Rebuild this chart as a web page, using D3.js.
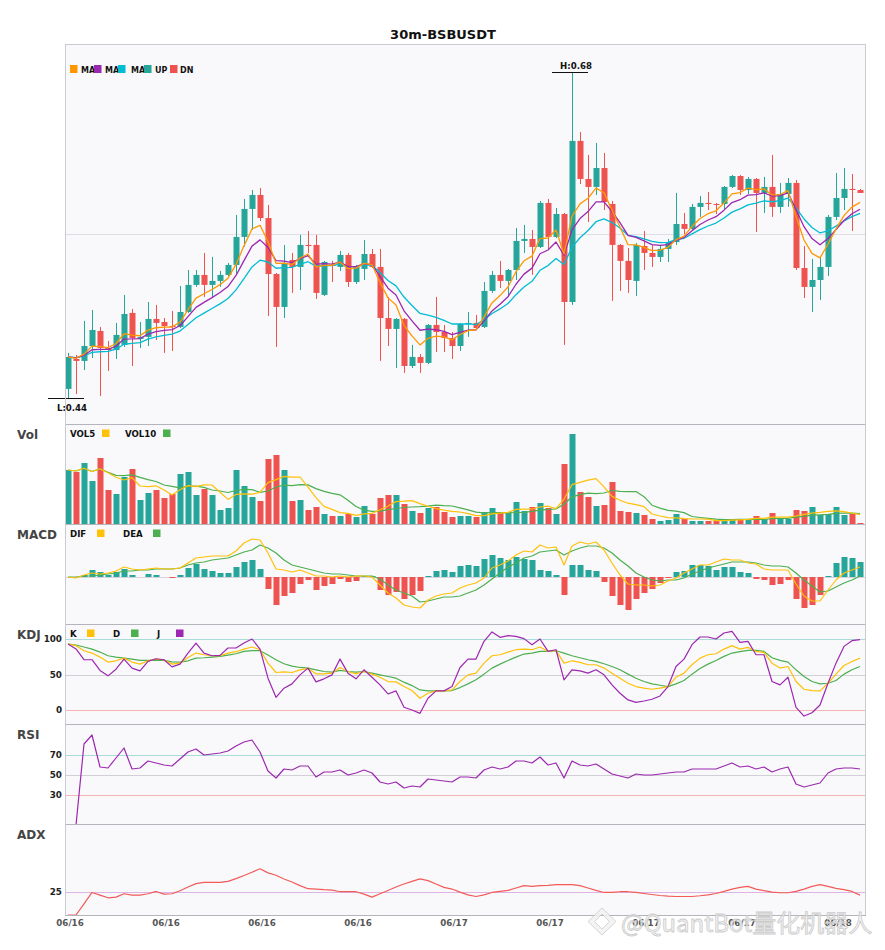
<!DOCTYPE html>
<html>
<head>
<meta charset="utf-8">
<title>30m-BSBUSDT</title>
<script src="https://cdn.jsdelivr.net/npm/d3@7/dist/d3.min.js"></script>
<style>
  body { margin: 0; background: #fff; }
  svg { display: block; font-family: "DejaVu Sans", Verdana, sans-serif; }
</style>
</head>
<body>
<div id="chart"></div>
<script>
// 30m BSB/USDT candles with the indicator panes under them.
// every value below

const tickIdx = [0, 12, 24, 36, 48, 60, 72, 84, 96];
const tickLabels = ["06/16", "06/16", "06/16", "06/16", "06/17", "06/17", "06/17", "06/17", "06/18"];

const open = [0.4468,0.4693,0.4678,0.4790,0.4903,0.4775,0.4760,0.4798,0.5038,0.4843,
  0.4858,0.4993,0.4970,0.4940,0.4933,0.5045,0.5248,0.5323,0.5248,0.5278,
  0.5323,0.5398,0.5608,0.5818,0.5923,0.5750,0.5330,0.5083,0.5435,0.5383,
  0.5548,0.5548,0.5173,0.5398,0.5383,0.5473,0.5270,0.5368,0.5480,0.5383,
  0.5000,0.4918,0.4993,0.4640,0.4708,0.4663,0.4948,0.4895,0.4850,0.4790,
  0.4955,0.4963,0.4933,0.5203,0.5323,0.5278,0.5360,0.5578,0.5593,0.5533,
  0.5863,0.5608,0.5780,0.5120,0.6328,0.6043,0.5983,0.6125,0.5855,0.5548,
  0.5428,0.5278,0.5540,0.5488,0.5458,0.5518,0.5570,0.5705,0.5668,0.5833,
  0.5863,0.5855,0.5855,0.5983,0.6065,0.5960,0.6043,0.5938,0.5983,0.5833,
  0.5930,0.6013,0.5375,0.5233,0.5285,0.5383,0.5758,0.5900,0.5968,0.5960];
const high = [0.4738,0.4723,0.4978,0.5060,0.4933,0.4828,0.4963,0.5173,0.5068,0.4970,
  0.5120,0.5098,0.5000,0.5053,0.5240,0.5360,0.5360,0.5488,0.5458,0.5353,
  0.5413,0.5773,0.5893,0.5960,0.5975,0.5848,0.5338,0.5548,0.5488,0.5623,
  0.5653,0.5623,0.5428,0.5428,0.5503,0.5488,0.5398,0.5585,0.5518,0.5518,
  0.5158,0.5000,0.5000,0.4798,0.4730,0.4955,0.5158,0.4948,0.4895,0.4963,
  0.5045,0.5023,0.5270,0.5353,0.5428,0.5368,0.5675,0.5698,0.5660,0.5878,
  0.5893,0.5825,0.5788,0.6845,0.6395,0.6223,0.6313,0.6238,0.5878,0.5555,
  0.5525,0.5563,0.5653,0.5548,0.5548,0.5593,0.5938,0.5788,0.5855,0.5915,
  0.5945,0.5863,0.5990,0.6073,0.6073,0.6058,0.6050,0.6058,0.6223,0.6013,
  0.6050,0.6035,0.5540,0.5443,0.5458,0.5773,0.6088,0.6125,0.6080,0.5968];
const low = [0.4400,0.4430,0.4610,0.4700,0.4415,0.4603,0.4693,0.4783,0.4640,0.4775,
  0.4790,0.4835,0.4738,0.4753,0.4925,0.5038,0.5233,0.5158,0.5158,0.5233,
  0.5315,0.5323,0.5533,0.5660,0.5728,0.5015,0.4783,0.5000,0.5188,0.5210,
  0.5488,0.5143,0.5165,0.5270,0.5353,0.5233,0.5255,0.5285,0.5375,0.4678,
  0.4790,0.4625,0.4588,0.4625,0.4588,0.4655,0.4745,0.4745,0.4693,0.4753,
  0.4858,0.4918,0.4925,0.5188,0.5225,0.5158,0.5285,0.5488,0.5323,0.5525,
  0.5518,0.5600,0.4798,0.5098,0.6005,0.5720,0.5923,0.5810,0.5128,0.5203,
  0.5188,0.5165,0.5360,0.5383,0.5420,0.5420,0.5548,0.5630,0.5660,0.5758,
  0.5810,0.5780,0.5810,0.5975,0.5923,0.5930,0.5645,0.5788,0.5758,0.5788,
  0.5833,0.5360,0.5150,0.5045,0.5135,0.5315,0.5735,0.5810,0.5653,0.5938];
const close = [0.4708,0.4678,0.4790,0.4910,0.4775,0.4760,0.4873,0.5030,0.4850,0.4858,
  0.4993,0.4963,0.4940,0.4933,0.5045,0.5248,0.5323,0.5248,0.5278,0.5323,
  0.5398,0.5608,0.5818,0.5923,0.5750,0.5330,0.5083,0.5413,0.5383,0.5548,
  0.5540,0.5188,0.5420,0.5390,0.5473,0.5270,0.5383,0.5480,0.5383,0.5000,
  0.4918,0.4993,0.4640,0.4708,0.4663,0.4948,0.4895,0.4850,0.4790,0.4955,
  0.4963,0.4925,0.5203,0.5323,0.5278,0.5360,0.5578,0.5593,0.5533,0.5863,
  0.5608,0.5780,0.5120,0.6328,0.6043,0.5983,0.6125,0.5870,0.5548,0.5428,
  0.5285,0.5548,0.5488,0.5458,0.5518,0.5570,0.5705,0.5668,0.5833,0.5863,
  0.5855,0.5848,0.5983,0.6065,0.5960,0.6043,0.5938,0.5983,0.5833,0.5930,
  0.6013,0.5375,0.5233,0.5285,0.5383,0.5758,0.5900,0.5968,0.5960,0.5938];

const ma5 = [0.4708,0.4698,0.4729,0.4789,0.4785,0.4777,0.4809,0.4882,0.4872,0.4867,
  0.4909,0.4927,0.4932,0.4932,0.4969,0.5062,0.5149,0.5182,0.5214,0.5250,
  0.5299,0.5402,0.5541,0.5668,0.5695,0.5574,0.5410,0.5411,0.5401,0.5450,
  0.5480,0.5383,0.5395,0.5394,0.5420,0.5370,0.5374,0.5410,0.5401,0.5267,
  0.5151,0.5098,0.4945,0.4866,0.4798,0.4848,0.4864,0.4859,0.4836,0.4876,
  0.4905,0.4912,0.5008,0.5113,0.5168,0.5232,0.5347,0.5429,0.5464,0.5596,
  0.5600,0.5660,0.5480,0.5763,0.5856,0.5898,0.5974,0.5939,0.5809,0.5682,
  0.5550,0.5549,0.5529,0.5505,0.5509,0.5530,0.5588,0.5614,0.5687,0.5746,
  0.5782,0.5804,0.5863,0.5931,0.5941,0.5974,0.5962,0.5969,0.5923,0.5926,
  0.5955,0.5761,0.5585,0.5485,0.5451,0.5553,0.5668,0.5768,0.5832,0.5867];
const ma10 = [0.4708,0.4701,0.4720,0.4762,0.4765,0.4764,0.4788,0.4842,0.4843,0.4846,
  0.4879,0.4897,0.4907,0.4913,0.4942,0.5010,0.5080,0.5117,0.5153,0.5191,
  0.5236,0.5319,0.5430,0.5539,0.5586,0.5529,0.5430,0.5426,0.5416,0.5446,
  0.5467,0.5404,0.5408,0.5404,0.5419,0.5386,0.5386,0.5407,0.5401,0.5312,
  0.5224,0.5173,0.5054,0.4978,0.4908,0.4917,0.4912,0.4899,0.4875,0.4893,
  0.4909,0.4912,0.4977,0.5053,0.5103,0.5160,0.5253,0.5329,0.5374,0.5482,
  0.5510,0.5570,0.5470,0.5661,0.5746,0.5798,0.5871,0.5871,0.5799,0.5716,
  0.5620,0.5604,0.5578,0.5551,0.5544,0.5550,0.5584,0.5603,0.5654,0.5701,
  0.5735,0.5760,0.5809,0.5866,0.5887,0.5922,0.5926,0.5938,0.5915,0.5918,
  0.5939,0.5814,0.5685,0.5596,0.5549,0.5596,0.5663,0.5731,0.5782,0.5816];
const ma20 = [0.4708,0.4703,0.4715,0.4742,0.4747,0.4749,0.4766,0.4803,0.4810,0.4816,
  0.4841,0.4858,0.4870,0.4879,0.4902,0.4951,0.5002,0.5037,0.5071,0.5106,
  0.5146,0.5211,0.5296,0.5383,0.5434,0.5420,0.5373,0.5378,0.5379,0.5403,
  0.5422,0.5389,0.5394,0.5393,0.5404,0.5386,0.5385,0.5398,0.5396,0.5341,
  0.5281,0.5241,0.5157,0.5094,0.5034,0.5022,0.5004,0.4982,0.4955,0.4955,
  0.4956,0.4951,0.4987,0.5034,0.5068,0.5109,0.5175,0.5233,0.5275,0.5358,
  0.5393,0.5447,0.5401,0.5531,0.5602,0.5656,0.5722,0.5743,0.5716,0.5675,
  0.5620,0.5610,0.5593,0.5574,0.5566,0.5567,0.5587,0.5598,0.5631,0.5663,
  0.5690,0.5712,0.5750,0.5794,0.5818,0.5849,0.5862,0.5879,0.5872,0.5881,
  0.5899,0.5826,0.5743,0.5679,0.5638,0.5654,0.5689,0.5728,0.5760,0.5785];

// volume, thousands
const vol = [54,52,61,43,66,34,30,47,55,24, 31,34,26,30,50,52,29,35,29,14,
  16,54,38,27,23,65,69,54,23,24, 14,17,10,8,8,10,7,18,10,26,
  29,29,20,13,11,16,17,12,7,8, 8,7,12,16,11,12,22,13,17,21,
  16,10,60,90,32,27,18,19,42,13, 12,11,9,5,3,4,10,5,3,3,
  3,3,5,5,5,5,8,5,11,5, 5,14,13,17,9,10,17,9,10,1];
const vol5 = [54,53,55.7,52.5,55.2,51.2,46.8,44,46.4,38, 37.4,38.2,34,29,34.2,38.4,37.4,39.2,39,31.8,
  24.6,29.6,30.2,29.8,31.6,41.4,44.4,47.6,46.8,47, 36.8,26.4,17.6,14.6,11.4,10.6,8.6,10.2,10.6,14.2,
  18,22.4,22.8,23.4,20.4,17.8,15.4,13.8,12.6,12, 10.4,8.4,8.4,10.2,10.8,11.6,14.6,14.8,15,17,
  17.8,15.4,24.8,39.4,41.6,43.8,45.4,37.2,27.6,23.8, 20.8,19.4,17.4,10,8,6.4,6.2,5.4,5,5,
  4.8,3.4,3.4,3.8,4.2,4.6,5.6,5.6,6.8,6.8, 6.8,8,9.6,10.8,11.6,12.6,13.2,12.4,11,9.4];
const vol10 = [54,53,55.7,52.5,55.2,51.7,48.6,48.4,49.1,46.6, 44.3,42.5,39,37.7,36.1,37.9,37.8,36.6,34,33,
  31.5,33.5,34.7,34.4,31.7,33,37,38.9,38.3,39.3, 39.1,35.4,32.6,30.7,29.2,23.7,17.5,13.9,12.6,12.8,
  14.3,15.5,16.5,17,17.3,17.9,18.9,18.3,18,16.2, 14.1,11.9,11.1,11.4,11.4,11,11.5,11.6,12.6,13.9,
  14.7,15,19.8,27.2,29.3,30.8,30.4,31,33.5,32.7, 32.3,32.4,27.3,18.8,15.9,13.6,12.8,11.4,7.5,6.5,
  5.6,4.8,4.4,4.4,4.6,4.7,4.5,4.5,5.3,5.5, 5.7,6.8,7.6,8.8,9.2,9.7,10.6,11,10.9,10.5];

const dif = [0,-0.0005,0.001,0.002,0.0015,0.002,0.003,0.005,0.004,0.0035,
  0.004,0.0045,0.004,0.004,0.0045,0.007,0.0095,0.01,0.0105,0.0105,
  0.0105,0.013,0.017,0.019,0.0185,0.012,0.004,0.0035,0.0025,0.0035,
  0.002,0.0005,0.0005,0,0.0005,0,0.0005,0.0005,0,-0.004,
  -0.008,-0.0105,-0.014,-0.015,-0.0155,-0.0115,-0.0095,-0.0085,-0.008,-0.0055,
  -0.004,-0.003,-0.0005,0.0045,0.006,0.008,0.011,0.013,0.0125,0.016,
  0.0145,0.015,0.006,0.0155,0.0175,0.0165,0.0175,0.0135,0.007,0.001,
  -0.0035,-0.004,-0.004,-0.0045,-0.004,-0.002,-0.0005,0.002,0.004,0.006,
  0.006,0.0075,0.009,0.0085,0.0085,0.007,0.0065,0.004,0.0035,0.0035,
  0.0035,-0.0035,-0.0095,-0.012,-0.012,-0.0065,-0.0015,0.002,0.0035,0.005];
const dea = [0,0,0.0005,0.0005,0.001,0.0015,0.002,0.003,0.003,0.0035,
  0.0035,0.004,0.004,0.004,0.0045,0.006,0.007,0.0075,0.0085,0.009,
  0.0095,0.011,0.0125,0.0135,0.016,0.0145,0.012,0.0085,0.006,0.005,
  0.004,0.003,0.002,0.0015,0.0015,0.001,0.0005,0.0005,0.0005,-0.001,
  -0.004,-0.0065,-0.008,-0.0095,-0.0125,-0.012,-0.011,-0.01,-0.01,-0.0095,
  -0.008,-0.0065,-0.004,-0.001,0.002,0.005,0.007,0.0095,0.0105,0.0125,
  0.013,0.0135,0.011,0.013,0.0145,0.0155,0.0155,0.0145,0.012,0.0085,
  0.0055,0.002,0,-0.0015,-0.002,-0.0015,-0.0015,-0.0005,0.0015,0.003,
  0.0045,0.0055,0.0065,0.0075,0.0075,0.0075,0.007,0.006,0.0055,0.0055,
  0.005,0.002,-0.0015,-0.0045,-0.0075,-0.007,-0.005,-0.003,-0.0015,0.0005];
const macd = [0,0,0.001,0.0035,0.0025,0.001,0.0025,0.004,0.001,0,
  0.0015,0.001,0,-0.0005,0.001,0.0045,0.0065,0.004,0.003,0.002,
  0.002,0.005,0.0075,0.0085,0.004,-0.006,-0.014,-0.0095,-0.008,-0.0035,
  -0.0015,-0.0065,-0.0045,-0.0035,-0.001,-0.0025,-0.002,0.0005,0.0005,-0.0065,
  -0.009,-0.0075,-0.011,-0.009,-0.007,0.0005,0.003,0.0035,0.0025,0.0055,
  0.006,0.0055,0.009,0.011,0.0095,0.0085,0.01,0.009,0.0085,0.0035,
  0.003,0.001,-0.009,0.006,0.006,0.0035,0.003,-0.0025,-0.0095,-0.014,
  -0.0165,-0.011,-0.008,-0.006,-0.003,-0.0005,0.0025,0.003,0.006,0.006,
  0.0055,0.0035,0.005,0.005,0.0025,0.002,-0.001,-0.0015,-0.004,-0.0035,
  -0.0015,-0.011,-0.0155,-0.014,-0.009,0.0005,0.007,0.01,0.0095,0.0075];

const kdjK = [93,90.6,83.5,80.2,74.5,67.5,69.3,73.1,67.5,64.6, 69.3,71.7,70.8,64.6,66,74,80.2,77.8,76.4,76.4,
  80.2,82.1,85.8,88.7,84.9,66,52.8,53.8,52.8,56.6, 58.5,50.9,50.9,51.9,59.9,54.2,50.9,54.2,50.5,46.2,
  40.1,39.6,33,27.4,16.5,23.6,26.9,26.9,28.3,40.1, 49.5,51.9,66,76.4,77.8,81.6,84.9,85.8,84.9,88.7,
  82.5,84,66,69.3,67,63.7,63.7,59,51.9,44.8, 37.7,33,30.7,29.2,30.7,33,46.2,51.9,63.7,73.1,
  77.8,79.2,85.8,90.6,85.8,88.2,82.5,81.1,66,59, 61.3,40.1,29.2,27.4,26.9,37.7,50.5,62.7,68.4,73.1];
const kdjD = [93,91.5,88.7,85.8,81.6,76.4,74.5,73.1,71.7,69.8, 69.8,69.8,69.8,67.9,67.5,69.3,73.1,73.6,74.5,75.5,
  77.4,79.2,82.5,83.5,83.5,77.4,70.8,65.1,61.8,59.9, 59,56.6,54.2,53.3,55.7,54.2,53.3,54.2,51.9,49.5,
  47.2,44.8,39.2,34.4,28.3,26.9,26.9,26.9,27.4,31.6, 36.8,42.5,50.5,59,64.6,69.8,74.5,78.8,80.2,82.5,
  82.5,83.5,80.2,76.4,73.6,70.8,68.4,65.1,61.3,56.6, 50.5,44.8,40.1,36.8,34.9,33,36.8,41.5,50.5,58.5,
  64.6,69.8,75.5,80.2,82.1,84,84,82.5,73.6,69.8, 67.5,56.6,47.2,40.1,36.8,37.7,41.5,50.5,56.6,61.3];
const kdjJ = [93,86,70.8,70.8,55.7,48.1,57.5,71.7,59,55.2, 68.4,72.2,70.8,60.8,64.6,80.2,94.3,80.2,76.4,76.9,
  87.3,87.3,94.3,100,85.8,44.8,17.9,30.7,36.8,49.5, 59,39.6,43.9,49.5,71.7,51.9,43.9,56.6,46.2,35.4,
  22.6,26.9,3.8,0,-4.7,16.5,26.9,26.9,33,59.9, 71.7,71.7,96.7,109.9,102.4,104.7,103.8,100.5,92,100,
  82.5,84.9,42.5,56.6,55.2,51.9,56.6,49.5,35.4,23.6, 14.2,10.8,12.7,15.1,19.8,33,61.3,71.7,92,102.8,
  102.8,100,108.5,110.8,95.3,96.7,77.8,77.8,40.1,35.4, 46.2,3.8,-8.5,-3.8,7.1,37.7,66,89.6,97.6,99];

const rsi = [null,0,81,90,58,57,67,77,56,57, 64,62,60,59,66,73,76,70,71,72,
  74,79,83,85,73,54,47,56,55,59, 59,48,53,53,55,50,52,55,52,43,
  41,43,37,39,38,46,45,44,43,48, 48,47,55,58,56,58,64,64,62,68,
  60,62,47,64,60,59,61,56,51,49, 47,51,50,50,51,52,53,53,56,56,
  56,56,59,62,58,59,56,58,53,56, 58,41,38,40,42,52,56,57,57,56];

const adx = [0,0,12.1,24.5,21.6,18.7,19.4,23.1,21.6,21.6, 23.1,25.6,22.7,23.1,26.4,30.4,34.1,35.5,35.5,35.5,
  36.6,39.6,42.9,46.5,50.2,45.8,43.2,39.2,35.9,31.9, 28.6,28.2,27.5,27.1,25.3,25.3,25.3,22.7,19.4,23.1,
  26.7,30.4,33.7,36.6,39.2,37.4,33.7,30,28.2,24.9, 21.9,20.1,21.9,24.5,25.6,26.7,29.3,31.9,31.1,31.9,
  32.2,33,33,33,31.9,29.3,26.7,24.5,24.5,25.3, 25.3,24.5,23.4,22.3,21.2,20.5,20.1,20.1,20.1,20.9,
  21.9,23.4,25.6,28.2,30,31.1,28.2,26.4,24.9,24.2, 24.2,25.6,28.2,31.1,33,31.1,28.9,27.5,25.6,21.6];

// ---- layout ----
const W = 885, H = 950;
const left = 65, right = 865;

const upColor = "#26a69a", dnColor = "#ef5350";
const orange = "#ff9800", purple = "#9c27b0", cyan = "#00bcd4";
const yellow = "#ffc107", green = "#4caf50";

const P = {
  main: {top: 44, bottom: 424},
  vol:  {top: 424, bottom: 524, label: "Vol"},
  macd: {top: 524, bottom: 624, label: "MACD"},
  kdj:  {top: 624, bottom: 724, label: "KDJ"},
  rsi:  {top: 724, bottom: 824, label: "RSI"},
  adx:  {top: 824, bottom: 915, label: "ADX"}
};

const svg = d3.select("#chart").append("svg")
    .attr("width", W)
    .attr("height", H);

const n = close.length;
const idx = d3.range(n);
const x = d3.scaleBand().domain(idx).range([left - 1, right - 1]);
const bw = x.bandwidth();
const cx = i => x(i) + bw / 2;
const isUp = i => close[i] >= open[i];

const yMain = d3.scaleLinear().domain([d3.min(low), d3.max(high)]).range([P.main.bottom - 26, P.main.top + 28]);
const yVol = d3.scaleLinear().domain([0, d3.max(vol) / 0.9]).range([P.vol.bottom, P.vol.top]);
const yMacd = d3.scaleLinear().domain(d3.extent(dif.concat(dea, macd))).range([P.macd.bottom - 14, P.macd.top + 15]);
const yKdj = d3.scaleLinear().domain([0, 100]).range([P.kdj.top + 86, P.kdj.top + 15]);
const yRsi = d3.scaleLinear().domain([30, 70]).range([P.rsi.top + 71, P.rsi.top + 31]);
const yAdx = d3.scaleLinear().domain([0, 25]).range([P.adx.bottom, P.adx.bottom - 23]);

// plot background
svg.append("rect")
    .attr("x", left).attr("y", P.main.top)
    .attr("width", right - left).attr("height", P.adx.bottom - P.main.top)
    .attr("fill", "#f9f9fb");

const defs = svg.append("defs");
Object.keys(P).forEach(k => {
    defs.append("clipPath").attr("id", "clip-" + k)
        .append("rect")
        .attr("x", left).attr("y", P[k].top)
        .attr("width", right - left).attr("height", P[k].bottom - P[k].top);
});
const layer = k => svg.append("g").attr("clip-path", "url(#clip-" + k + ")");

function hline(g, y, color) {
    g.append("line")
        .attr("x1", left).attr("x2", right)
        .attr("y1", Math.round(y) + 0.5).attr("y2", Math.round(y) + 0.5)
        .attr("stroke", color).attr("stroke-width", 1);
}

function series(g, values, y, color, w) {
    g.append("path").datum(values)
        .attr("fill", "none")
        .attr("stroke", color)
        .attr("stroke-width", w || 1.2)
        .attr("stroke-linejoin", "round")
        .attr("d", d3.line()
            .defined(v => v != null)
            .x((v, i) => cx(i))
            .y(v => y(v)));
}

// ---- main: candles + MA ----
const gMain = layer("main");
hline(gMain, (P.main.top + P.main.bottom) / 2, "#dedee4");

gMain.selectAll(".wick").data(idx).join("line")
    .attr("class", "wick")
    .attr("x1", i => cx(i) + 0.5).attr("x2", i => cx(i) + 0.5)
    .attr("y1", i => yMain(high[i])).attr("y2", i => yMain(low[i]))
    .attr("stroke", i => isUp(i) ? upColor : dnColor)
    .attr("stroke-width", 1);

gMain.selectAll(".body").data(idx).join("rect")
    .attr("class", "body")
    .attr("x", i => cx(i) - 2.5)
    .attr("width", bw - 2)
    .attr("y", i => yMain(Math.max(open[i], close[i])))
    .attr("height", i => Math.max(1, Math.abs(yMain(open[i]) - yMain(close[i]))))
    .attr("fill", i => isUp(i) ? upColor : dnColor);

series(gMain, ma20, yMain, cyan, 1.3);
series(gMain, ma10, yMain, purple, 1.3);
series(gMain, ma5, yMain, orange, 1.3);

// high / low marks
const iH = d3.maxIndex(high), iL = d3.minIndex(low);
[[iH, high[iH], "H:", -4], [iL, low[iL], "L:", 12]].forEach(([i, v, pre, dy]) => {
    const yy = Math.round(yMain(v)) + 0.5;
    svg.append("line")
        .attr("x1", cx(i) - 20).attr("x2", cx(i) + 16)
        .attr("y1", yy).attr("y2", yy)
        .attr("stroke", "#111").attr("stroke-width", 1.2);
    svg.append("text")
        .attr("x", cx(i) + 4).attr("y", yy + dy)
        .attr("text-anchor", "middle")
        .attr("font-size", 8.6).attr("font-weight", "bold").attr("fill", "#111")
        .text(pre + v.toFixed(2));
});

// main legend, each label is cut by the next swatch
const mainLegend = [
    {text: "MA5", color: orange, sx: 70, tx: 81},
    {text: "MA10", color: purple, sx: 94, tx: 105},
    {text: "MA20", color: cyan, sx: 118, tx: 131},
    {text: "UP", color: upColor, sx: 144, tx: 155},
    {text: "DN", color: dnColor, sx: 170, tx: 180}
];
mainLegend.forEach((d, k) => {
    const stop = k < mainLegend.length - 1 ? mainLegend[k + 1].sx : d.tx + 40;
    defs.append("clipPath").attr("id", "leg-" + k)
        .append("rect").attr("x", d.tx - 1).attr("y", 55).attr("width", stop - d.tx + 1).attr("height", 25);
    svg.append("text")
        .attr("x", d.tx).attr("y", 72.5)
        .attr("clip-path", "url(#leg-" + k + ")")
        .attr("font-size", 8).attr("font-weight", "bold").attr("fill", "#111")
        .text(d.text);
    svg.append("rect")
        .attr("x", d.sx).attr("y", 65).attr("width", 7.5).attr("height", 8)
        .attr("fill", d.color);
});

// ---- volume ----
const gVol = layer("vol");
gVol.selectAll(".vbar").data(idx).join("rect")
    .attr("class", "vbar")
    .attr("x", i => cx(i) - 2.5)
    .attr("width", bw - 2)
    .attr("y", i => yVol(vol[i]))
    .attr("height", i => P.vol.bottom - yVol(vol[i]))
    .attr("fill", i => isUp(i) ? upColor : dnColor);
series(gVol, vol10, yVol, green, 1.2);
series(gVol, vol5, yVol, yellow, 1.2);

// ---- MACD ----
const gMacd = layer("macd");
hline(gMacd, yMacd(0), "#d4d4da");
gMacd.selectAll(".mbar").data(idx).join("rect")
    .attr("class", "mbar")
    .attr("x", i => cx(i) - 2.5)
    .attr("width", bw - 2)
    .attr("y", i => yMacd(Math.max(0, macd[i])))
    .attr("height", i => Math.abs(yMacd(macd[i]) - yMacd(0)))
    .attr("fill", i => macd[i] >= 0 ? upColor : dnColor);
series(gMacd, dea, yMacd, green, 1.2);
series(gMacd, dif, yMacd, yellow, 1.2);

// ---- KDJ ----
const gKdj = layer("kdj");
hline(gKdj, yKdj(100), "#a9dcd7");
hline(gKdj, yKdj(50), "#d0d0d6");
hline(gKdj, yKdj(0), "#f6b4b4");
series(gKdj, kdjD, yKdj, green, 1.2);
series(gKdj, kdjK, yKdj, yellow, 1.2);
series(gKdj, kdjJ, yKdj, purple, 1.2);

// ---- RSI ----
const gRsi = layer("rsi");
hline(gRsi, yRsi(70), "#a9dcd7");
hline(gRsi, yRsi(50), "#d0d0d6");
hline(gRsi, yRsi(30), "#f6b4b4");
series(gRsi, rsi, yRsi, purple, 1.2);

// ---- ADX ----
const gAdx = layer("adx");
hline(gAdx, yAdx(25), "#dcb4e6");
series(gAdx, adx, yAdx, "#f25b58", 1.2);

// ---- pane legends ----
const paneLegends = [
    {top: P.vol.top, items: [{text: "VOL5", color: yellow, tx: 70, sx: 102}, {text: "VOL10", color: green, tx: 125, sx: 163}]},
    {top: P.macd.top, items: [{text: "DIF", color: yellow, tx: 70, sx: 97}, {text: "DEA", color: green, tx: 123, sx: 153}]},
    {top: P.kdj.top, items: [{text: "K", color: yellow, tx: 70, sx: 87}, {text: "D", color: green, tx: 113, sx: 131}, {text: "J", color: purple, tx: 157, sx: 176}]}
];
paneLegends.forEach(pl => {
    pl.items.forEach(d => {
        svg.append("text")
            .attr("x", d.tx).attr("y", pl.top + 13)
            .attr("font-size", 8.6).attr("font-weight", "bold").attr("fill", "#111")
            .text(d.text);
        svg.append("rect")
            .attr("x", d.sx).attr("y", pl.top + 5.5).attr("width", 7.5).attr("height", 7.5)
            .attr("fill", d.color);
    });
});

// pane names
["vol", "macd", "kdj", "rsi", "adx"].forEach(k => {
    svg.append("text")
        .attr("x", 17).attr("y", P[k].top + 15)
        .attr("font-size", 12).attr("font-weight", "bold").attr("fill", "#444")
        .text(P[k].label);
});

// value ticks on the oscillator panes
[[yKdj, [0, 50, 100]], [yRsi, [30, 50, 70]], [yAdx, [25]]].forEach(([sc, vals]) => {
    svg.append("g")
        .attr("transform", "translate(63,0)")
        .call(d3.axisLeft(sc).tickValues(vals).tickSize(0).tickPadding(1))
        .call(g => g.select(".domain").remove())
        .attr("font-family", "DejaVu Sans")
        .attr("font-size", 8.8)
        .attr("font-weight", "bold")
        .call(g => g.selectAll("text").attr("fill", "#222"));
});

// frame
const frame = svg.append("g").attr("shape-rendering", "crispEdges");
frame.append("line").attr("x1", left).attr("x2", right).attr("y1", P.main.top + 0.5).attr("y2", P.main.top + 0.5).attr("stroke", "#cacad2");
[P.vol.top, P.macd.top, P.kdj.top, P.rsi.top, P.adx.top, P.adx.bottom].forEach(y => {
    frame.append("line").attr("x1", left).attr("x2", right + 1).attr("y1", y + 0.5).attr("y2", y + 0.5).attr("stroke", "#b4b4bc");
});
[left, right].forEach(xx => {
    frame.append("line").attr("x1", xx + 0.5).attr("x2", xx + 0.5).attr("y1", P.main.top).attr("y2", P.adx.bottom).attr("stroke", "#cacad2");
});

// time axis
svg.append("g")
    .attr("transform", "translate(2," + P.adx.bottom + ")")
    .call(d3.axisBottom(x).tickValues(tickIdx).tickFormat((d, k) => tickLabels[k]).tickSize(0).tickPadding(5))
    .call(g => g.select(".domain").remove())
    .attr("font-family", "DejaVu Sans")
    .attr("font-size", 8.7)
    .attr("font-weight", "bold")
    .call(g => g.selectAll("text").attr("fill", "#555"));

// title
svg.append("text")
    .attr("x", 443).attr("y", 39)
    .attr("text-anchor", "middle")
    .attr("font-size", 13).attr("font-weight", "bold").attr("fill", "#111")
    .text("30m-BSBUSDT");

// source watermark, bottom right
const wm = svg.append("g").attr("opacity", 0.85);
wm.append("path")
    .attr("d", "M602,908 L616,921.5 L602,935 L588,921.5 Z M602,914 L609.5,921.5 L602,929 L594.5,921.5 Z")
    .attr("fill", "#f2f2f2").attr("fill-rule", "evenodd")
    .attr("stroke", "#c8c8c8").attr("stroke-width", 0.9);
wm.append("text")
    .attr("x", 621).attr("y", 932)
    .attr("font-family", "'Noto Sans CJK SC', 'Noto Sans', sans-serif")
    .attr("font-size", 24)
    .attr("fill", "#f2f2f2").attr("stroke", "#c4c4c4").attr("stroke-width", 0.8)
    .text("@QuantBot量化机器人");
</script>
</body>
</html>
